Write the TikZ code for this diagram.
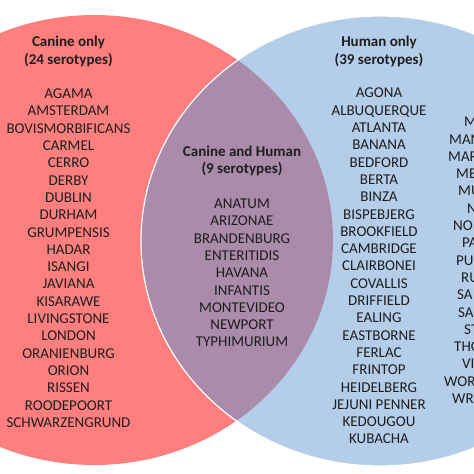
\documentclass[tikz,border=0pt]{standalone}
\usepackage{fontspec}
\setmainfont{Carlito}
\definecolor{caninered}{HTML}{FF7F7F}
\definecolor{humanblue}{HTML}{B4CDE9}
\definecolor{bothpurple}{HTML}{AA8BAA}
\definecolor{listtext}{HTML}{1E1E1E}

\begin{document}
\begin{tikzpicture}[
        x=1pt, y=-1pt,
        every node/.style={inner sep=0pt, anchor=north, align=center, text=listtext, font=\fontsize{15}{17.3}\selectfont},
        heading/.style={font=\fontsize{15}{17.3}\selectfont\bfseries},
        cut/.style={anchor=base west}
    ]
    \useasboundingbox (0,0) rectangle (474,474);

    % the two sets and their overlap
    \fill[caninered] (94,240) ellipse [x radius=239, y radius=225];
    \fill[humanblue] (380,241) ellipse [x radius=239, y radius=225];
    \begin{scope}
        \clip (94,240) ellipse [x radius=239, y radius=225];
        \fill[bothpurple] (380,241) ellipse [x radius=239, y radius=225];
    \end{scope}
    \draw[white, line width=1.2pt] (380,241) ellipse [x radius=239, y radius=225];

    % canine only
    \node[heading] (caninehead) at (68.5,34.4) {\strut Canine only\\(24 serotypes)};
    \node (caninelist) at (68.5,86.3) {\strut AGAMA\\AMSTERDAM\\BOVISMORBIFICANS\\CARMEL\\CERRO\\DERBY\\DUBLIN\\DURHAM\\GRUMPENSIS\\HADAR\\ISANGI\\JAVIANA\\KISARAWE\\LIVINGSTONE\\LONDON\\ORANIENBURG\\ORION\\RISSEN\\ROODEPOORT\\SCHWARZENGRUND};

    % both
    \node[heading] (bothhead) at (242,143.9) {\strut Canine and Human\\(9 serotypes)};
    \node (bothlist) at (242,196.2) {\strut ANATUM\\ARIZONAE\\BRANDENBURG\\ENTERITIDIS\\HAVANA\\INFANTIS\\MONTEVIDEO\\NEWPORT\\TYPHIMURIUM};

    % human only
    \node[heading] (humanhead) at (379,34.4) {\strut Human only\\(39 serotypes)};
    \node (humanlist) at (379,85.6) {\strut AGONA\\ALBUQUERQUE\\ATLANTA\\BANANA\\BEDFORD\\BERTA\\BINZA\\BISPEBJERG\\BROOKFIELD\\CAMBRIDGE\\CLAIRBONEI\\COVALLIS\\DRIFFIELD\\EALING\\EASTBORNE\\FERLAC\\FRINTOP\\HEIDELBERG\\JEJUNI PENNER\\KEDOUGOU\\KUBACHA};

    % second column, cut at the edge
    \foreach \frag/\fx [count=\i] in {M/464, MAN/449, MAR/448, MB/456, MU/458, N/467, NO/453, PA/462, PU/456, RU/461, SA/457, SA/458, ST/464, THO/454, VI/462, WOR/444, WR/452}
        \node[cut] (humanmore\i) at (\fx,109.4+17.3*\i) {\frag};
\end{tikzpicture}
\end{document}
